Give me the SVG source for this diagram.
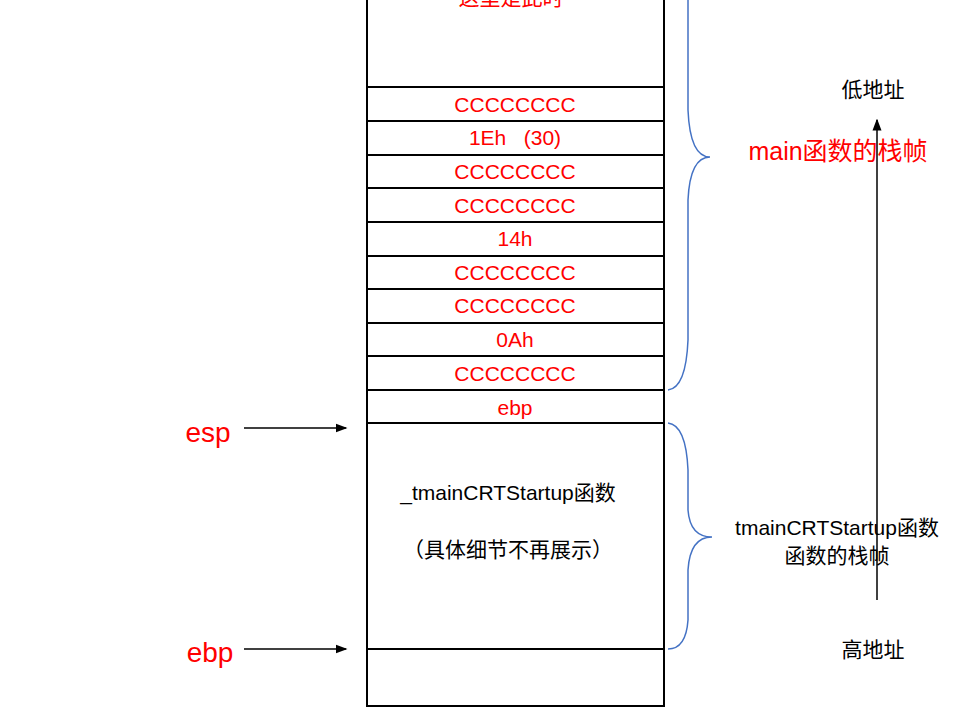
<svg xmlns="http://www.w3.org/2000/svg" width="960" height="720" viewBox="0 0 960 720">
<style>
.b{fill:#fff;stroke:#000;stroke-width:2}
.r{fill:#ff0000;font-family:"Liberation Sans","Noto Sans CJK SC",sans-serif;font-size:21px;text-anchor:middle}
.k{fill:#000;font-family:"Liberation Sans","Noto Sans CJK SC",sans-serif;font-size:21px;text-anchor:middle}
.br{fill:none;stroke:#4472c4;stroke-width:1.5}
</style>
<defs><marker id="a" markerWidth="8" markerHeight="8" refX="7" refY="4" orient="auto"><path d="M0,1 L8,4 L0,7z" fill="#000"/></marker></defs>
<rect width="960" height="720" fill="#fff"/>
<g id="outer"><rect class="b" x="367" y="-5" width="297" height="711"/><text class="r" x="511" y="5">这里是此时</text></g>
<g id="cells">
<rect class="b" x="367" y="87" width="297" height="34"/><text class="r" x="515" y="112">CCCCCCCC</text>
<rect class="b" x="367" y="121" width="297" height="34"/><text class="r" x="515" y="145" xml:space="preserve">1Eh   (30)</text>
<rect class="b" x="367" y="155" width="297" height="33"/><text class="r" x="515" y="179">CCCCCCCC</text>
<rect class="b" x="367" y="188" width="297" height="34"/><text class="r" x="515" y="213">CCCCCCCC</text>
<rect class="b" x="367" y="222" width="297" height="34"/><text class="r" x="515" y="246">14h</text>
<rect class="b" x="367" y="256" width="297" height="33"/><text class="r" x="515" y="280">CCCCCCCC</text>
<rect class="b" x="367" y="289" width="297" height="34"/><text class="r" x="515" y="313">CCCCCCCC</text>
<rect class="b" x="367" y="323" width="297" height="33"/><text class="r" x="515" y="347">0Ah</text>
<rect class="b" x="367" y="356" width="297" height="34"/><text class="r" x="515" y="381">CCCCCCCC</text>
<rect class="b" x="367" y="390" width="297" height="33"/><text class="r" x="515" y="415">ebp</text>
<rect class="b" x="367" y="423" width="297" height="226"/>
<text class="k" x="508" y="500">_tmainCRTStartup函数</text>
<text class="k" x="508" y="557">（具体细节不再展示）</text>
<rect class="b" x="367" y="649" width="297" height="57"/>
</g>
<g id="braces">
<path class="br" d="M668,390 Q686,388 688,340 L688,200 Q690,157 710,157 Q690,157 688,110 L688,0"/>
<path class="br" d="M668,423 Q686,425 688,470 L688,510 Q690,537 712,537 Q690,537 688,570 L688,620 Q686,649 668,649"/>
</g>
<g id="labels">
<text class="r" x="208" y="442" style="font-size:28px">esp</text>
<text class="r" x="210" y="662" style="font-size:28px">ebp</text>
<text class="r" x="838" y="160" style="font-size:25px">main函数的栈帧</text>
<text class="k" x="837" y="535">tmainCRTStartup函数</text>
<text class="k" x="837" y="563">函数的栈帧</text>
<text class="k" x="873" y="97">低地址</text>
<text class="k" x="873" y="657">高地址</text>
</g>
<g id="connectors" stroke="#000" stroke-width="1.5">
<line x1="244" y1="428" x2="346" y2="428" marker-end="url(#a)"/>
<line x1="244" y1="649" x2="346" y2="649" marker-end="url(#a)"/>
<line x1="877" y1="600" x2="877" y2="120" marker-end="url(#a)"/>
</g>
</svg>
